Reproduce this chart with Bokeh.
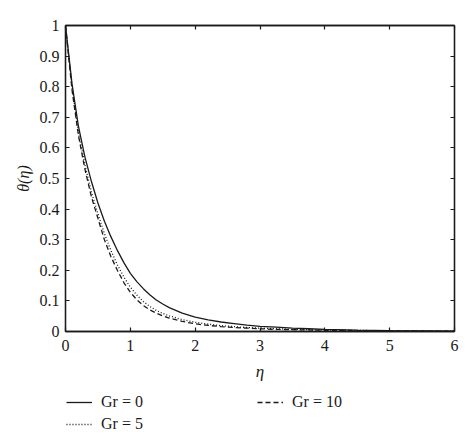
from bokeh.plotting import figure
from bokeh.layouts import column
from bokeh.models import LinearAxis, FixedTicker, Legend, LegendItem, Range1d
from bokeh.embed import file_html
from bokeh.resources import INLINE

eta = [0, 0.1, 0.2, 0.3, 0.4, 0.5, 0.6, 0.7, 0.8, 0.9, 1.0, 1.1, 1.2, 1.3, 1.4, 1.5, 1.6,
       1.8, 2.0, 2.2, 2.4, 2.6, 2.8, 3.0, 3.25, 3.5, 3.75, 4.0, 4.5, 5.0, 5.5, 6.0]
theta_gr0 = [1.0, 0.81, 0.67, 0.57, 0.49, 0.42, 0.36, 0.31, 0.265, 0.225, 0.19, 0.163, 0.14,
             0.12, 0.103, 0.09, 0.078, 0.06, 0.047, 0.038, 0.031, 0.026, 0.021, 0.017, 0.014,
             0.011, 0.009, 0.007, 0.0045, 0.003, 0.002, 0.001]
theta_gr5 = [1.0, 0.80, 0.65, 0.545, 0.455, 0.385, 0.32, 0.265, 0.218, 0.178, 0.145, 0.119,
             0.098, 0.082, 0.069, 0.059, 0.051, 0.039, 0.030, 0.024, 0.019, 0.016, 0.013, 0.011,
             0.009, 0.007, 0.006, 0.005, 0.0035, 0.0025, 0.0018, 0.0012]
theta_gr10 = [1.0, 0.79, 0.64, 0.53, 0.44, 0.37, 0.30, 0.245, 0.20, 0.16, 0.128, 0.104, 0.085,
              0.071, 0.06, 0.051, 0.044, 0.033, 0.025, 0.02, 0.016, 0.013, 0.011, 0.009, 0.007,
              0.006, 0.005, 0.004, 0.003, 0.002, 0.0015, 0.001]
labels = ["Gr = 0", "Gr = 5", "Gr = 10"]
x_ticks = [0, 1, 2, 3, 4, 5, 6]
y_ticks = [0, 0.1, 0.2, 0.3, 0.4, 0.5, 0.6, 0.7, 0.8, 0.9, 1]
y_tick_labels = ["0", "0.1", "0.2", "0.3", "0.4", "0.5", "0.6", "0.7", "0.8", "0.9", "1"]

INK = "#1a1a1a"
SERIF = "Liberation Serif"
DASHES = [None, "1 2", "5 3"]
SERIES = [theta_gr0, theta_gr5, theta_gr10]

p = figure(frame_width=389, frame_height=306, output_backend="svg", toolbar_location=None,
           x_range=Range1d(0, 6), y_range=Range1d(0, 1),
           min_border_left=65, min_border_right=12, min_border_top=25, min_border_bottom=60)
p.xgrid.visible = False
p.ygrid.visible = False
p.outline_line_color = INK
p.outline_line_width = 1.3
p.background_fill_color = "white"
p.border_fill_color = "white"

for ys, dash in zip(SERIES, DASHES):
    kw = {} if dash is None else {"line_dash": dash}
    p.line(eta, ys, line_color=INK, line_width=1.3, **kw)

def style(ax, show_labels):
    ax.major_tick_in = 4
    ax.major_tick_out = 0
    ax.minor_tick_line_color = None
    ax.axis_line_color = INK
    ax.axis_line_width = 1.3
    ax.major_tick_line_color = INK
    ax.major_tick_line_width = 1.2
    if show_labels:
        ax.major_label_text_font = SERIF
        ax.major_label_text_font_size = "16px"
        ax.major_label_text_color = INK
    else:
        ax.major_label_text_color = None
        ax.major_label_standoff = 0

xa = p.xaxis[0]
xa.ticker = FixedTicker(ticks=x_ticks)
style(xa, True)
xa.major_label_standoff = 8
xa.axis_label = "η"
xa.axis_label_text_font = SERIF
xa.axis_label_text_font_style = "italic"
xa.axis_label_text_font_size = "17px"
xa.axis_label_text_color = INK
xa.axis_label_standoff = 8

ya = p.yaxis[0]
ya.ticker = FixedTicker(ticks=y_ticks)
ya.major_label_overrides = {t: s for t, s in zip(y_ticks, y_tick_labels)}
style(ya, True)
ya.major_label_standoff = 6
ya.axis_label = "θ(η)"
ya.axis_label_text_font = SERIF
ya.axis_label_text_font_style = "italic"
ya.axis_label_text_font_size = "16px"
ya.axis_label_text_color = INK
ya.axis_label_standoff = 5

top = LinearAxis(ticker=FixedTicker(ticks=x_ticks))
style(top, False)
p.add_layout(top, "above")
right = LinearAxis(ticker=FixedTicker(ticks=y_ticks))
style(right, False)
p.add_layout(right, "right")

# legend strip below the plot: proxy (non-drawn) renderers carry the line styles
leg_fig = figure(width=466, height=50, output_backend="svg", toolbar_location=None,
                 x_axis_location=None, y_axis_location=None,
                 x_range=Range1d(0, 6), y_range=Range1d(0, 1),
                 min_border=0, outline_line_color=None)
leg_fig.xgrid.visible = False
leg_fig.ygrid.visible = False
proxies = []
for ys, dash in zip(SERIES, DASHES):
    kw = {} if dash is None else {"line_dash": dash}
    proxies.append(leg_fig.line(eta, ys, line_color=INK, line_width=1.3, visible=False, **kw))

legend = Legend(items=[LegendItem(label=lab, renderers=[r]) for lab, r in zip(labels, proxies)],
                nrows=2, orientation="vertical", location=(1, 8),
                border_line_color=None, background_fill_alpha=0,
                label_text_font=SERIF, label_text_font_size="16px", label_text_color=INK,
                glyph_width=26, glyph_height=16, label_height=16, label_width=152,
                label_standoff=9, spacing=4, padding=0, margin=0)
leg_fig.add_layout(legend, "center")

open("out.html", "w").write(file_html(column(p, leg_fig), INLINE))
